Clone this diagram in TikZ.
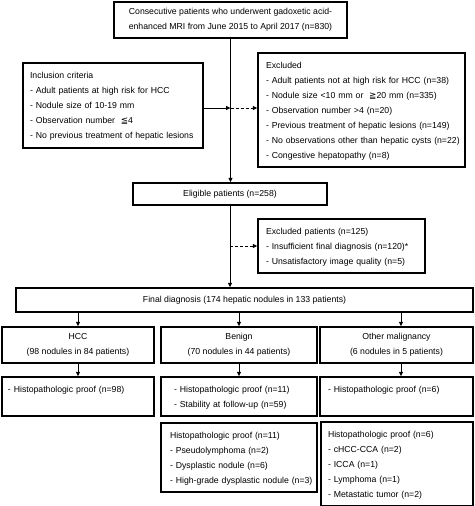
\documentclass[tikz,border=0pt]{standalone}
\usepackage{fontspec}
\setmainfont{Liberation Sans}
\newfontfamily\symbfont{DejaVu Sans}
\usetikzlibrary{arrows.meta}
\newcommand\boxlines[1]{\begin{tabular}{@{}l@{}}#1\end{tabular}}
\begin{document}
\begin{tikzpicture}[x=1pt,y=-1pt,
  box/.style={draw, line width=1.4pt, inner ysep=0pt, font=\fontsize{8.7}{15}\selectfont},
  cbox/.style={box, align=center},
  lbox/.style={box, align=left},
  conn/.style={line width=1pt, -{Triangle[length=4.5pt,width=4pt]}},
  dconn/.style={conn, dash pattern=on 3pt off 2pt}]
\useasboundingbox (0,0) rectangle (474,506);

\node[cbox, minimum width=233pt, minimum height=36pt] (top) at (230.5,20)
  {Consecutive patients who underwent gadoxetic acid-\\enhanced MRI from June 2015 to April 2017 (n=830)};

\node[lbox, minimum width=180pt, minimum height=85pt, inner xsep=7pt, text width=166pt] (incl) at (113,105.5)
  {\boxlines{Inclusion criteria\\- Adult patients at high risk for HCC\\- Nodule size of 10-19 mm\\- Observation number \ {\symbfont ≦}4\\- No previous treatment of hepatic lesions}};

\node[lbox, minimum width=207pt, minimum height=114pt, inner xsep=8pt, text width=191pt] (excl) at (361.5,110)
  {\boxlines{Excluded\\- Adult patients not at high risk for HCC (n=38)\\- Nodule size <10 mm or \ {\symbfont ≧}20 mm (n=335)\\- Observation number >4 (n=20)\\- Previous treatment of hepatic lesions (n=149)\\- No observations other than hepatic cysts (n=22)\\- Congestive hepatopathy (n=8)}};

\node[cbox, minimum width=194pt, minimum height=22pt] (elig) at (230,194) {Eligible patients (n=258)};

\node[lbox, minimum width=167pt, minimum height=54pt, inner xsep=8pt, text width=151pt] (exclpat) at (341.5,246)
  {\boxlines{Excluded patients (n=125)\\- Insufficient final diagnosis (n=120)*\\- Unsatisfactory image quality (n=5)}};

\node[cbox, minimum width=457pt, minimum height=24pt] (final) at (244.5,300) {Final diagnosis (174 hepatic nodules in 133 patients)};

\node[cbox, minimum width=152pt, minimum height=36pt] (hcc) at (78,345) {HCC\\(98 nodules in 84 patients)};
\node[cbox, minimum width=156pt, minimum height=36pt] (ben) at (239,345) {Benign\\(70 nodules in 44 patients)};
\node[cbox, minimum width=153pt, minimum height=36pt] (oth) at (396.5,345) {Other malignancy\\(6 nodules in 5 patients)};

\node[lbox, minimum width=152pt, minimum height=39pt, inner xsep=6pt, text width=140pt] (hccp) at (78,396.5)
  {\boxlines{- Histopathologic proof (n=98)\\ \mbox{}}};
\node[lbox, minimum width=156pt, minimum height=39pt, inner xsep=13pt, text width=130pt] (benp) at (239,396.5)
  {\boxlines{- Histopathologic proof (n=11)\\- Stability at follow-up (n=59)}};
\node[lbox, minimum width=153pt, minimum height=39pt, inner xsep=8pt, text width=137pt] (othp) at (396.5,396.5)
  {\boxlines{- Histopathologic proof (n=6)\\ \mbox{}}};

\node[lbox, minimum width=156pt, minimum height=69pt, inner xsep=9pt, text width=138pt] (benh) at (239,457.5)
  {\boxlines{Histopathologic proof (n=11)\\- Pseudolymphoma (n=2)\\- Dysplastic nodule (n=6)\\- High-grade dysplastic nodule (n=3)}};
\node[lbox, minimum width=152pt, minimum height=84pt, inner xsep=7pt, text width=138pt] (othh) at (397,464)
  {\boxlines{Histopathologic proof (n=6)\\- cHCC-CCA (n=2)\\- ICCA (n=1)\\- Lymphoma (n=1)\\- Metastatic tumor (n=2)}};

% main flow
\coordinate (j1) at (230.5,108);
\coordinate (j2) at (230,246);
\draw[conn] (top.south) -- (top.south |- elig.north);
\draw[conn] (incl.east |- j1) -- (j1);
\draw[dconn] (j1) -- (j1 -| excl.west);
\draw[conn] (elig.south) -- (elig.south |- final.north);
\draw[dconn] (j2) -- (j2 -| exclpat.west);

% categories
\coordinate (o1) at ([xshift=4.5pt]oth.north);
\draw[conn] (hcc.north |- final.south) -- (hcc.north);
\draw[conn] (ben.north |- final.south) -- (ben.north);
\draw[conn] (o1 |- final.south) -- (o1);
\draw[conn] (hcc.south) -- (hccp.north);
\draw[conn] (ben.south) -- (benp.north);
\draw[conn] (o1 |- oth.south) -- (o1 |- othp.north);
\end{tikzpicture}
\end{document}
